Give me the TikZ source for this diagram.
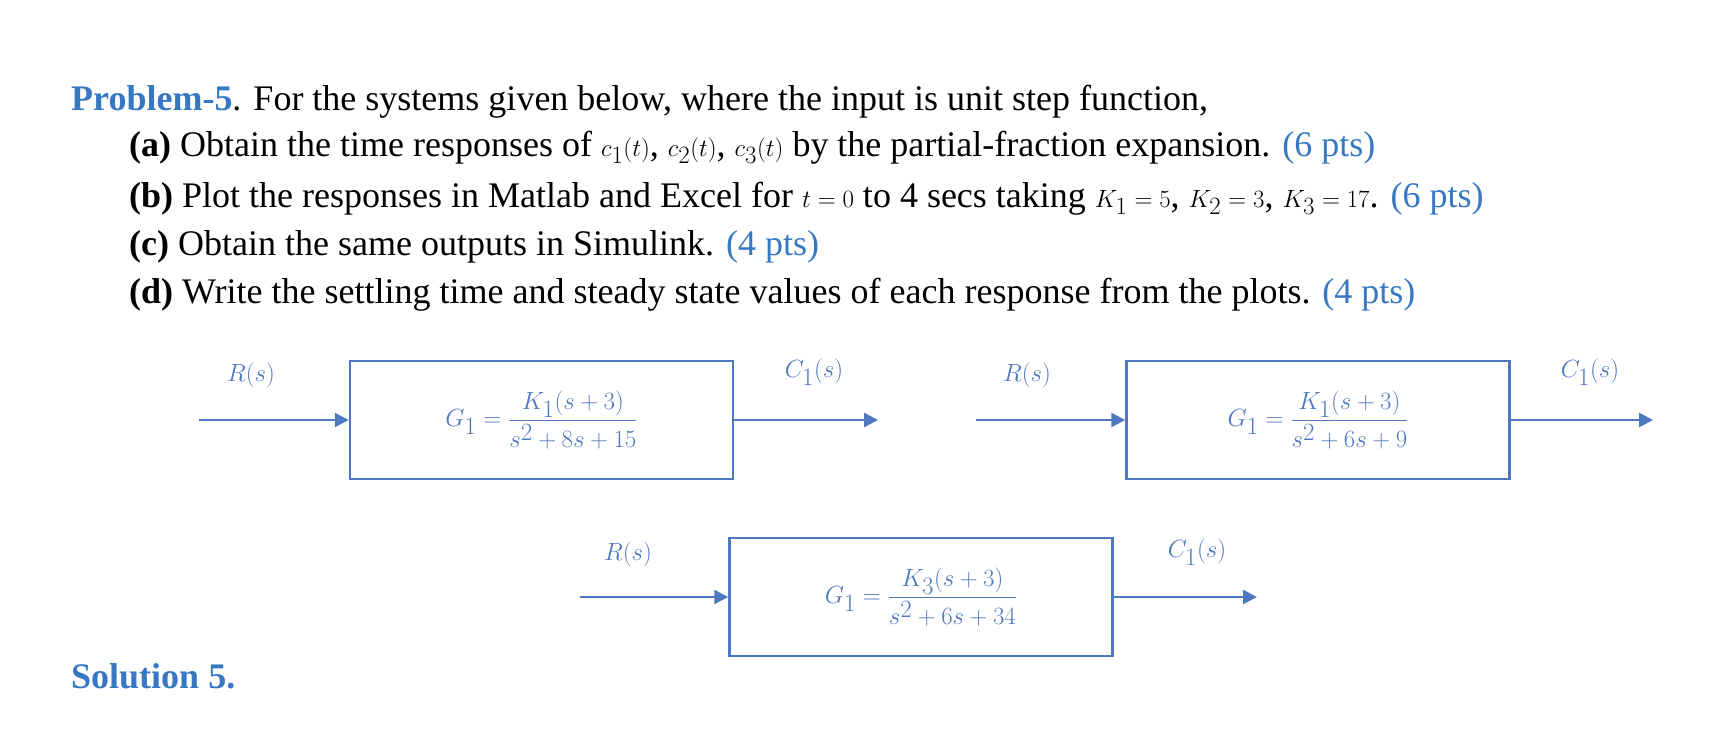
\documentclass[tikz,border=0pt]{standalone}
\usepackage{amsmath}
\usepackage{fontspec}
\setmainfont{Liberation Serif}
\usetikzlibrary{arrows.meta}
\definecolor{tblue}{RGB}{55,120,195}
\definecolor{bblue}{RGB}{80,120,190}
\tikzset{
  txt/.style={anchor=base west,inner sep=0pt,font=\fontsize{36}{42}\selectfont},
  blk/.style={draw=bblue,line width=2.5pt,minimum width=383pt,minimum height=118pt,inner sep=0pt,text=bblue,font=\fontsize{36}{42}\selectfont},
  sig/.style={text=bblue,font=\fontsize{36}{42}\selectfont,inner sep=0pt},
  arr/.style={draw=bblue,line width=2.5pt,-{Triangle[length=14pt,width=14pt]}}
}
\begin{document}
\begin{tikzpicture}[x=1pt,y=-1pt]
\useasboundingbox (0,0) rectangle (1714,736);
\node[txt] (t0) at (71,110) {\textcolor{tblue}{\textbf{Problem-5}}. For the systems given below, where the input is unit step function,};
\node[txt] (ta) at (129,156) {\textbf{(a)} Obtain the time responses of $c_1(t)$, $c_2(t)$, $c_3(t)$ by the partial-fraction expansion. \textcolor{tblue}{(6 pts)}};
\node[txt] (tb) at (129,207) {\textbf{(b)} Plot the responses in Matlab and Excel for $t=0$ to 4 secs taking $K_1=5$, $K_2=3$, $K_3=17$. \textcolor{tblue}{(6 pts)}};
\node[txt] (tc) at (129,255) {\textbf{(c)} Obtain the same outputs in Simulink. \textcolor{tblue}{(4 pts)}};
\node[txt] (td) at (129,303) {\textbf{(d)} Write the settling time and steady state values of each response from the plots. \textcolor{tblue}{(4 pts)}};
\node[txt] (sol) at (71,688) {\textcolor{tblue}{\textbf{Solution 5.}}};

\node[blk] (b1) at (541.5,420) {$G_1=\dfrac{K_1(s+3)}{s^2+8s+15}$};
\node[blk] (b2) at (1318,420) {$G_1=\dfrac{K_1(s+3)}{s^2+6s+9}$};
\node[blk] (b3) at (921,597) {$G_1=\dfrac{K_3(s+3)}{s^2+6s+34}$};

\coordinate (i1) at (199,420); \coordinate (o1) at (878,420);
\coordinate (i2) at (976,420); \coordinate (o2) at (1653,420);
\coordinate (i3) at (580,597); \coordinate (o3) at (1257,597);
\draw[arr] (i1) -- (b1.west); \draw[arr] (b1.east) -- (o1);
\draw[arr] (i2) -- (b2.west); \draw[arr] (b2.east) -- (o2);
\draw[arr] (i3) -- (b3.west); \draw[arr] (b3.east) -- (o3);

\node[sig] (r1) at (251,375) {$R(s)$};
\node[sig] (c1) at (814,372) {$C_1(s)$};
\node[sig] (r2) at (1027,375) {$R(s)$};
\node[sig] (c2) at (1590,372) {$C_1(s)$};
\node[sig] (r3) at (628,554) {$R(s)$};
\node[sig] (c3) at (1197,552) {$C_1(s)$};
\end{tikzpicture}
\end{document}
